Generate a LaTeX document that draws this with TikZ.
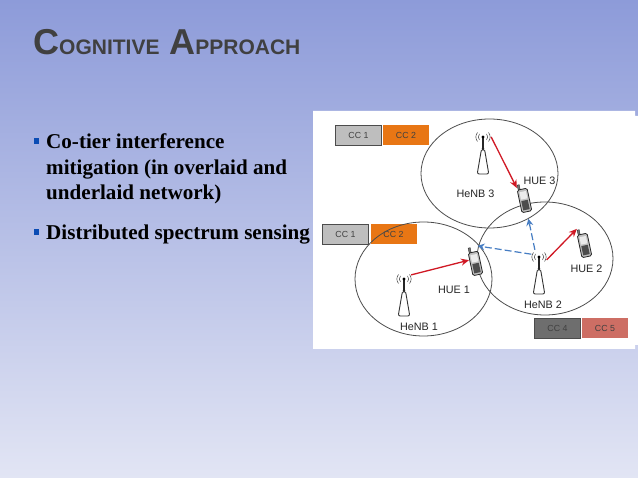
\documentclass[tikz,border=0pt]{standalone}
\usepackage{fontspec}
\setmainfont{Liberation Serif}
\newfontfamily\labelfont{Liberation Sans}
\usetikzlibrary{arrows.meta,shapes.geometric}

\definecolor{slidetop}{RGB}{141,155,217}
\definecolor{slidebottom}{RGB}{226,229,244}
\definecolor{headgray}{RGB}{64,64,64}
\definecolor{bulletblue}{RGB}{10,76,180}
\definecolor{ccgray}{RGB}{190,190,190}
\definecolor{ccdark}{RGB}{110,110,110}
\definecolor{ccorange}{RGB}{232,118,20}
\definecolor{ccrose}{RGB}{205,110,100}
\definecolor{sigred}{RGB}{208,24,36}
\definecolor{sigblue}{RGB}{70,125,195}

\tikzset{
  cell/.style={draw=black!70,ellipse,line width=0.8pt,inner sep=0pt,outer sep=0pt},
  ccbox/.style={minimum width=46pt,minimum height=20pt,inner sep=0pt,font=\labelfont\fontsize{8.8}{10}\selectfont,text=black!75},
  ccedge/.style={ccbox,draw=black!70,line width=0.9pt},
  tag/.style={inner sep=0pt,font=\labelfont\fontsize{10.8}{12}\selectfont,text=black!85},
  bulletmark/.style={fill=bulletblue,minimum size=5.5pt,inner sep=0pt},
  bodytext/.style={anchor=base west,inner sep=0pt,font=\bfseries\fontsize{21.1}{25.8}\selectfont,align=left},
  wave/.style={circle,minimum size=16pt,inner sep=0pt},
  handbody/.style={rectangle,minimum width=11pt,minimum height=28pt,inner sep=0pt,rotate=12},
  sigarrow/.style={-{Stealth[length=8pt,width=7pt]},sigred,line width=1.3pt},
  sensearrow/.style={-{Stealth[length=7pt,width=7pt]},sigblue,line width=1.2pt,dash pattern=on 7pt off 3pt},
  pics/mast/.style={code={
    \draw[line width=0.9pt,black!80,rounded corners=2pt,fill=white] (-1.5,12) -- (-5.8,37) -- (5.8,37) -- (1.5,12) -- cycle;
    \draw[line width=1.3pt,black!85] (0,0) -- (0,12);
    \fill[black] (0,0) circle (1.6pt);
    \draw[line width=0.5pt,black!75] (-3.5,-3) arc (135:225:4.2pt) (3.5,-3) arc (45:-45:4.2pt);
    \draw[line width=0.5pt,black!75] (-5.5,-4.5) arc (140:220:7pt) (5.5,-4.5) arc (40:-40:7pt);
  }},
  pics/handset/.style={code={
    \draw[line width=0.4pt,black!85,fill=black!55] (-4,-14) rectangle (-2,-8);
    \draw[line width=0.8pt,black!85,fill=black!25,rounded corners=1.5pt] (-5,-9) rectangle (5,14);
    \fill[black!8] (-3.3,-6.5) rectangle (3.3,1);
    \fill[black!70] (-3.3,2.5) rectangle (3.3,12);
  }}
}

\begin{document}
\begin{tikzpicture}[x=1pt,y=-1pt]
  \useasboundingbox (0,0) rectangle (638,478);
  \shade[top color=slidetop,bottom color=slidebottom] (0,0) rectangle (638,478);

  % heading and bullets
  \node (head) [anchor=base west,inner sep=0pt,text=headgray,font=\labelfont\bfseries] at (33,55)
    {\fontsize{36}{36}\selectfont C\fontsize{21}{36}\selectfont OGNITIVE\hspace{4pt} \fontsize{36}{36}\selectfont A\fontsize{21}{36}\selectfont PPROACH};
  \node (mark1) [bulletmark] at (36.5,141) {};
  \node (item1) [bodytext] at (46,200) {Co-tier interference\\mitigation (in overlaid and\\underlaid network)};
  \node (mark2) [bulletmark] at (36.5,232) {};
  \node (item2) [bodytext] at (46,240) {Distributed spectrum sensing};

  % picture panel
  \fill[white] (313,111) -- (635,111) -- (635,116) -- (638,116) -- (638,345) -- (635,345) -- (635,349) -- (313,349) -- cycle;

  % carriers
  \node (cc1a) [ccedge,fill=ccgray] at (358.5,135) {CC 1};
  \node (cc2a) [ccbox,fill=ccorange] at (406,135) {CC 2};
  \node (cc1b) [ccedge,fill=ccgray] at (345.5,234.5) {CC 1};
  \node (cc2b) [ccbox,fill=ccorange] at (393.5,234.5) {CC 2};
  \node (cc4) [ccedge,fill=ccdark] at (557.5,328) {CC 4};
  \node (cc5) [ccbox,fill=ccrose] at (605,328) {CC 5};

  % cells
  \node (cell3) [cell,minimum width=137pt,minimum height=109pt] at (489.5,173.5) {};
  \node (cell1) [cell,minimum width=137pt,minimum height=114pt] at (423.5,279) {};
  \node (cell2) [cell,minimum width=136pt,minimum height=113pt] at (545,258.5) {};

  % stations and handsets
  \pic at (483,137) {mast};
  \pic at (404,279) {mast};
  \pic at (539,257) {mast};
  \node (ant3) [wave] at (483,137) {};
  \node (ant1) [wave] at (404,279) {};
  \node (ant2) [wave] at (539,257) {};
  \pic[rotate=12] at (524,198) {handset};
  \pic[rotate=12] at (475,261) {handset};
  \pic[rotate=12] at (584,243) {handset};
  \node (ph3) [handbody] at (524,198) {};
  \node (ph1) [handbody] at (475,261) {};
  \node (ph2) [handbody] at (584,243) {};

  \node (lant3) [tag] at (475.5,193.5) {HeNB 3};
  \node (lant1) [tag] at (419,326.5) {HeNB 1};
  \node (lant2) [tag] at (543,305) {HeNB 2};
  \node (lph3) [tag] at (539.5,181) {HUE 3};
  \node (lph1) [tag] at (454,289.5) {HUE 1};
  \node (lph2) [tag] at (586.5,268.5) {HUE 2};

  \path[sigarrow] (ant3.east) edge[shorten >=-3pt] (ph3.north west);
  \path[sigarrow] (ant1.30) edge (ph1.160);
  \path[sigarrow] (ant2.-20) edge[shorten >=-2pt] (ph2.north west);

  \path[sensearrow] (ant2.160) edge (ph1.north east);
  \path[sensearrow] (ant2.120) edge[shorten >=7pt] (ph3.south);

\end{tikzpicture}
\end{document}
